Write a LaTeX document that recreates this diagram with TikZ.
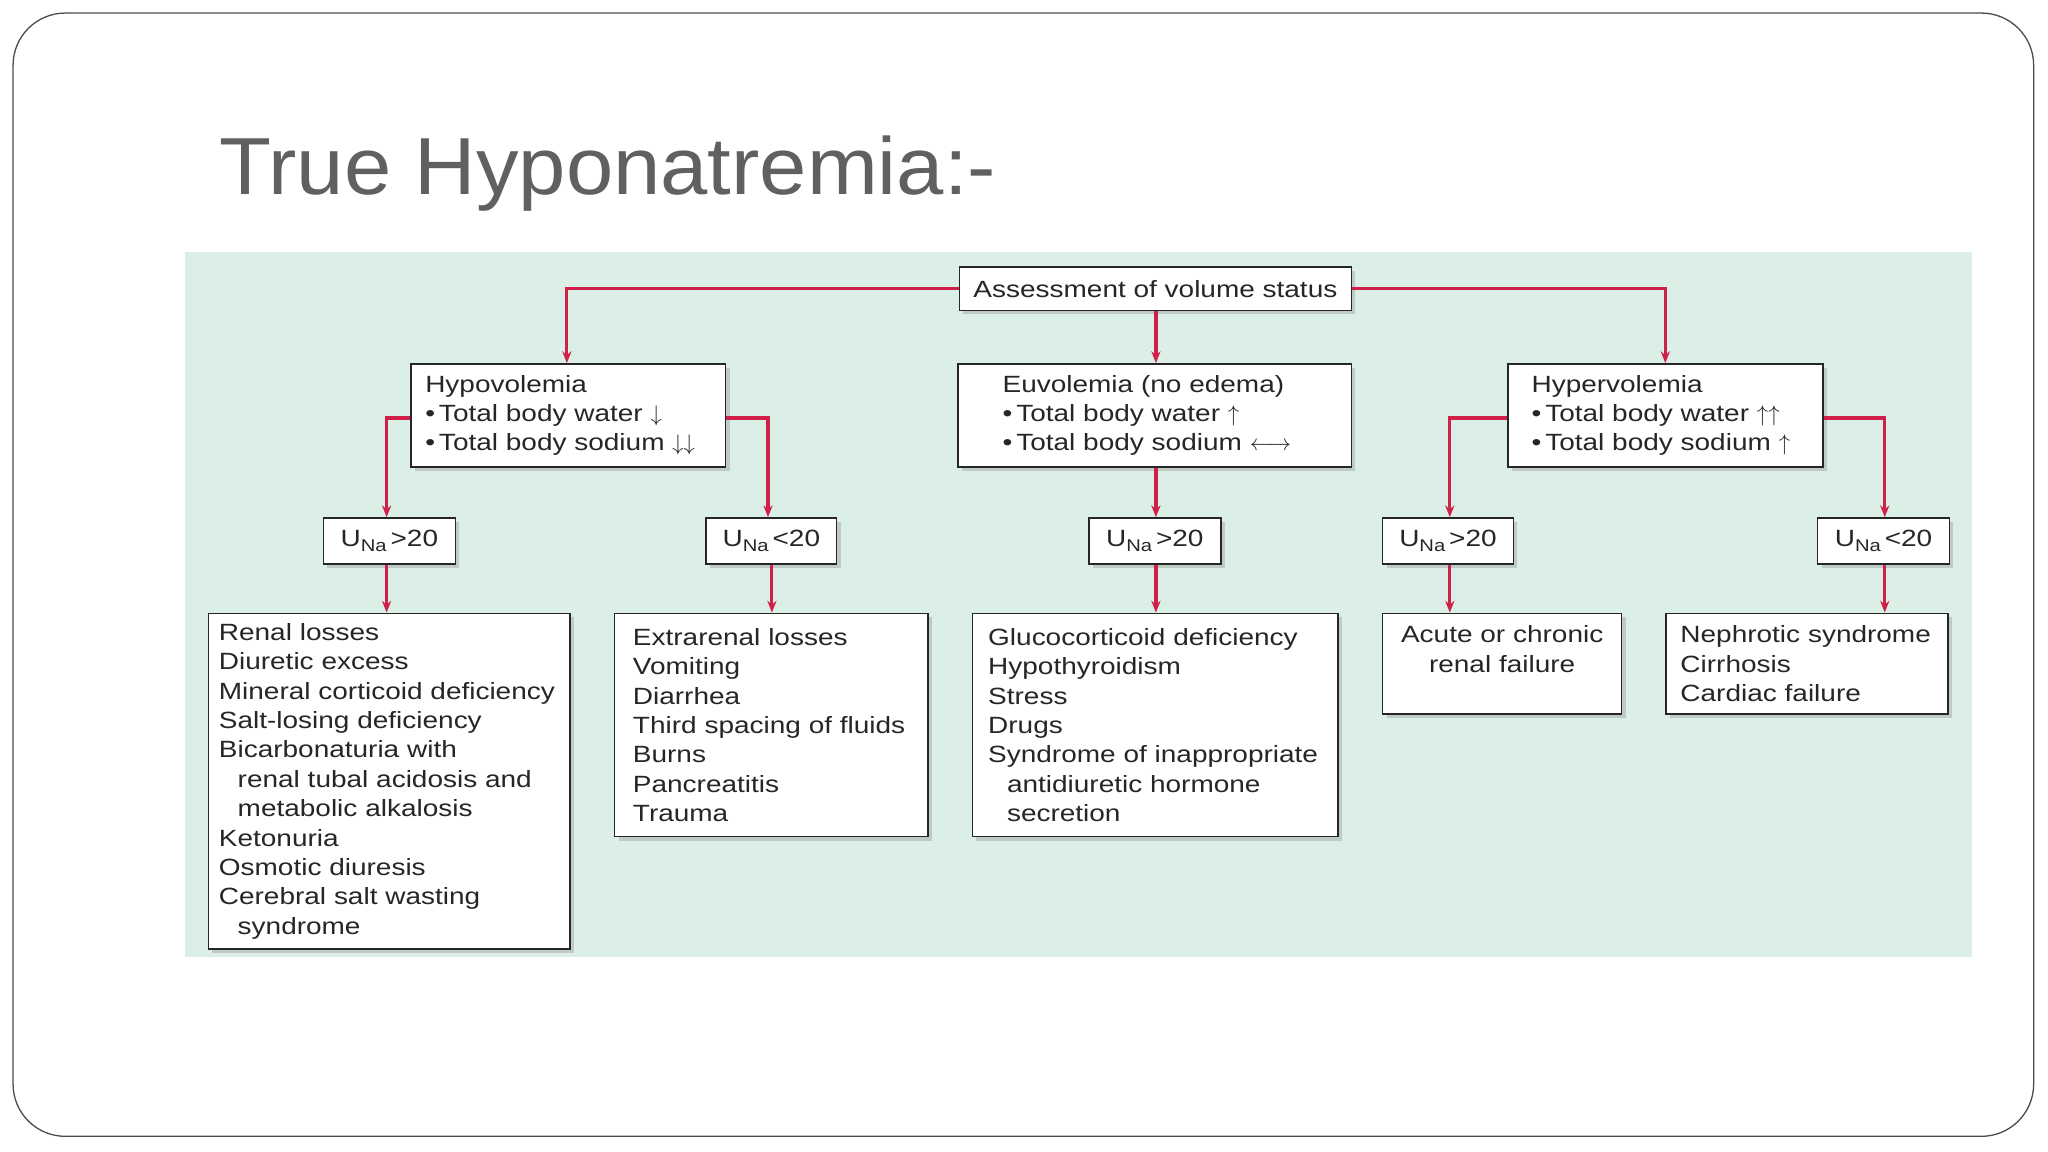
\documentclass[tikz,border=0pt]{standalone}
\usepackage{fontspec}
\setmainfont{Liberation Sans}
\newfontfamily\wide{Liberation Sans}[FakeStretch=1.19]
\newfontfamily\twide{Liberation Sans}[FakeStretch=1.05]
\usetikzlibrary{arrows.meta,shadows}
\definecolor{lin}{HTML}{D0204A}
\definecolor{pan}{HTML}{DCEFE6}
\definecolor{ttl}{HTML}{606060}
\begin{document}
\begin{tikzpicture}[x=1pt,y=-1pt,
  box/.style={draw=black!85,line width=1.2pt,fill=white,anchor=north west,align=left,
    inner xsep=8pt,inner ysep=0pt,font=\wide\fontsize{18}{22.5}\selectfont,text=black!85,
    drop shadow={shadow xshift=3pt,shadow yshift=-3pt,fill=black!35}},
  con/.style={draw=lin,line width=2.4pt,-{Stealth[length=9pt,width=7pt]}}]
\useasboundingbox (0,0) rectangle (1568,882);
\draw[black!70,line width=1pt,rounded corners=40pt] (10,10) rectangle (1557,870);
\node[anchor=west,text=ttl,font=\twide\fontsize{62}{70}\selectfont,inner sep=0] (title) at (168,133) {True Hyponatremia:-};
\fill[pan] (142,193) rectangle (1510,733);
\newcommand{\una}[1]{U\raisebox{-0.35ex}{\fontsize{13}{13}\selectfont Na}\,#1}
% boxes
\node[box,minimum width=300pt,minimum height=33pt,align=center] (ass) at (734,204) {Assessment of volume status};
\node[box,minimum width=241pt,minimum height=79pt,inner xsep=11pt,text width=219pt] (hypo) at (314,278) {Hypovolemia\\\textbullet\,Total body water $\downarrow$\\\textbullet\,Total body sodium $\downarrow\downarrow$};
\node[box,minimum width=301pt,minimum height=79pt,inner xsep=34pt,text width=233pt] (eu) at (733,278) {Euvolemia (no edema)\\\textbullet\,Total body water $\uparrow$\\\textbullet\,Total body sodium $\longleftrightarrow$};
\node[box,minimum width=241pt,minimum height=79pt,inner xsep=18pt,text width=205pt] (hyper) at (1154,278) {Hypervolemia\\\textbullet\,Total body water $\uparrow\uparrow$\\\textbullet\,Total body sodium $\uparrow$};
\node[box,minimum width=101pt,minimum height=35pt,align=center,inner xsep=2pt] (u1) at (247,396) {\una{>20}};
\node[box,minimum width=100pt,minimum height=35pt,align=center,inner xsep=2pt] (u2) at (540,396) {\una{<20}};
\node[box,minimum width=101pt,minimum height=35pt,align=center,inner xsep=2pt] (u3) at (833,396) {\una{>20}};
\node[box,minimum width=100pt,minimum height=35pt,align=center,inner xsep=2pt] (u4) at (1058,396) {\una{>20}};
\node[box,minimum width=101pt,minimum height=35pt,align=center,inner xsep=2pt] (u5) at (1391,396) {\una{<20}};
\node[box,minimum width=277pt,minimum height=257pt,text width=261pt] (b1) at (159,469) {Renal losses\\Diuretic excess\\Mineral corticoid deficiency\\Salt-losing deficiency\\Bicarbonaturia with\\\hspace*{0.8em}renal tubal acidosis and\\\hspace*{0.8em}metabolic alkalosis\\Ketonuria\\Osmotic diuresis\\Cerebral salt wasting\\\hspace*{0.8em}syndrome};
\node[box,minimum width=240pt,minimum height=171pt,text width=212pt,inner xsep=14pt] (b2) at (470,469) {Extrarenal losses\\Vomiting\\Diarrhea\\Third spacing of fluids\\Burns\\Pancreatitis\\Trauma};
\node[box,minimum width=280pt,minimum height=171pt,text width=256pt,inner xsep=12pt] (b3) at (744,469) {Glucocorticoid deficiency\\Hypothyroidism\\Stress\\Drugs\\Syndrome of inappropriate\\\hspace*{0.8em}antidiuretic hormone\\\hspace*{0.8em}secretion};
\node[box,minimum width=183pt,minimum height=77pt,text width=167pt,align=center] (b4) at (1058,469) {Acute or chronic\\renal failure\\\mbox{}};
\node[box,minimum width=216pt,minimum height=77pt,text width=194pt,inner xsep=11pt] (b5) at (1275,469) {Nephrotic syndrome\\Cirrhosis\\Cardiac failure};
% connectors
\draw[con] (ass.west) -| (hypo.north -| 434,0);
\draw[con] (ass.east) -| (hyper.north -| 1275,0);
\draw[con] (ass.south -| 885,0) -- (eu.north -| 885,0);
\draw[con] (hypo.west |- 0,320) -| (u1.north -| 296,0);
\draw[con] (hypo.east |- 0,320) -| (u2.north -| 588,0);
\draw[con] (eu.south -| 885,0) -- (u3.north -| 885,0);
\draw[con] (hyper.west |- 0,320) -| (u4.north -| 1110,0);
\draw[con] (hyper.east |- 0,320) -| (u5.north -| 1443,0);
\draw[con] (u1.south -| 296,0) -- (b1.north -| 296,0);
\draw[con] (u2.south -| 591,0) -- (b2.north -| 591,0);
\draw[con] (u3.south -| 885,0) -- (b3.north -| 885,0);
\draw[con] (u4.south -| 1110,0) -- (b4.north -| 1110,0);
\draw[con] (u5.south -| 1443,0) -- (b5.north -| 1443,0);
\end{tikzpicture}
\end{document}
